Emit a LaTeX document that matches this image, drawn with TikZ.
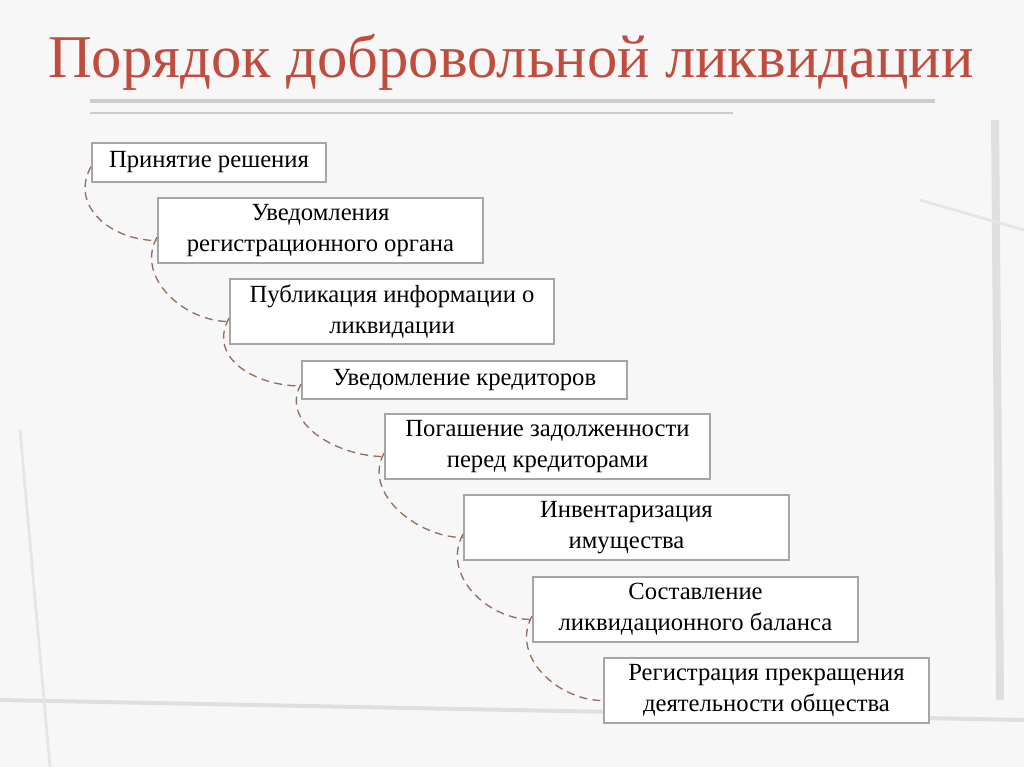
\documentclass[tikz,border=0pt]{standalone}
\usetikzlibrary{calc}
\usepackage{fontspec}
\setmainfont{Liberation Serif}
\definecolor{titlered}{RGB}{192,76,62}
\definecolor{linkbrown}{RGB}{150,110,95}
\begin{document}
\begin{tikzpicture}[x=0.75pt,y=-0.75pt,
  stepbox/.style={draw=gray!70,line width=1.5pt,fill=white,inner sep=0pt,font=\fontsize{18.5}{23}\selectfont,align=center,anchor=north west},
  link/.style={draw=linkbrown,dash pattern=on 6pt off 4pt,line width=1pt}]
\fill[gray!6] (0,0) rectangle (1024,767);
\useasboundingbox (0,0) rectangle (1024,767);
\draw[gray!25,line width=6pt] (995,120) -- (1000,700);
\draw[gray!20,line width=2pt] (920,200) -- (1024,230);
\draw[gray!25,line width=3pt] (0,700) -- (1024,720);
\draw[gray!20,line width=2pt] (20,430) -- (50,767);
\node[font=\fontsize{45.5}{48}\selectfont,text=titlered] (title) at (511,62) {Порядок добровольной ликвидации};
\draw[gray!40,line width=2.5pt] (90,101) -- (935,101);
\draw[gray!40,line width=1.5pt] (90,113) -- (733,113);
\node[stepbox,minimum width=234*0.75pt,minimum height=39*0.75pt] (b1) at (91,142) {Принятие решения};
\node[stepbox,minimum width=325*0.75pt,minimum height=65*0.75pt] (b2) at (157,197) {Уведомления\\регистрационного органа};
\node[stepbox,minimum width=324*0.75pt,minimum height=65*0.75pt] (b3) at (229,278) {Публикация информации о\\ликвидации};
\node[stepbox,minimum width=325*0.75pt,minimum height=38*0.75pt] (b4) at (301,360) {Уведомление кредиторов};
\node[stepbox,minimum width=325*0.75pt,minimum height=65*0.75pt] (b5) at (384,413) {Погашение задолженности\\перед кредиторами};
\node[stepbox,minimum width=325*0.75pt,minimum height=65*0.75pt] (b6) at (463,494) {Инвентаризация\\имущества};
\node[stepbox,minimum width=325*0.75pt,minimum height=65*0.75pt] (b7) at (532,576) {Составление\\ликвидационного баланса};
\node[stepbox,minimum width=325*0.75pt,minimum height=65*0.75pt] (b8) at (603,657) {Регистрация прекращения\\деятельности общества};
\foreach \a/\b in {b1/b2,b2/b3,b3/b4,b4/b5,b5/b6,b6/b7,b7/b8}{
  \draw[link] ($(\a.south west)!0.4!(\a.north west)$) .. controls +(-22,40) and +(-45,0) .. ($(\b.south west)!0.35!(\b.north west)$);
}
\end{tikzpicture}
\end{document}
